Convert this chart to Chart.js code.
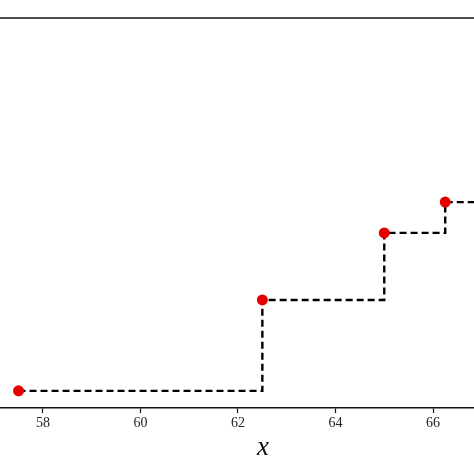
<!DOCTYPE html>
<html>
<head>
<meta charset="utf-8">
<script src="https://cdn.jsdelivr.net/npm/chart.js@4"></script>
<style>
html,body{margin:0;padding:0;background:#fff;}
#wrap{width:474px;height:474px;position:relative;}
</style>
</head>
<body>
<div id="wrap"><canvas id="c" width="474" height="474"></canvas></div>
<script>
// Data
const xValues = [57.5, 62.5, 65.0, 66.25, 67.5];
const yValues = [0.044, 0.277, 0.449, 0.528, 0.528];
const showPoint = [true, true, true, true, false];
const tickValues = [58, 60, 62, 64, 66];
const xRange = [57.12, 66.84];
const yRange = [0, 1];
const xTitle = 'x';

const points = xValues.map((x, i) => ({x: x, y: yValues[i]}));

const frameAndTitle = {
  id: 'frameAndTitle',
  afterDraw(chart) {
    const {ctx, chartArea} = chart;
    ctx.save();
    ctx.strokeStyle = '#111';
    ctx.lineWidth = 1.5;
    ctx.beginPath();
    ctx.moveTo(0, chartArea.top);
    ctx.lineTo(chart.width, chartArea.top);
    ctx.stroke();
    // axis title, centred on the full (cropped) axes
    ctx.fillStyle = '#111';
    ctx.font = 'italic 27px "Liberation Serif"';
    ctx.textAlign = 'center';
    ctx.textBaseline = 'alphabetic';
    ctx.fillText(xTitle, chartArea.left + chartArea.width * 0.555, chartArea.bottom + 47);
    ctx.restore();
  }
};

new Chart(document.getElementById('c'), {
  type: 'line',
  data: {
    datasets: [{
      data: points,
      stepped: true,
      borderColor: '#000',
      borderWidth: 2.4,
      borderDash: [7, 4],
      pointBackgroundColor: '#e60000',
      pointBorderColor: '#e60000',
      pointRadius: showPoint.map(s => s ? 5.5 : 0),
      pointBorderWidth: 0,
      fill: false
    }]
  },
  options: {
    responsive: false,
    animation: false,
    events: [],
    clip: false,
    layout: {autoPadding: false, padding: {top: 18, left: 0, right: 0, bottom: 0}},
    plugins: {legend: {display: false}, tooltip: {enabled: false}},
    scales: {
      x: {
        type: 'linear',
        min: xRange[0],
        max: xRange[1],
        afterBuildTicks: (s) => { s.ticks = tickValues.map(v => ({value: v})); },
        afterFit: (s) => { s.paddingLeft = 0; s.paddingRight = 0; s.height = 66; },
        grid: {display: true, drawOnChartArea: false, drawTicks: true, tickLength: 5, tickColor: '#111', tickWidth: 1.2},
        border: {display: true, color: '#111', width: 1.5},
        ticks: {color: '#222', font: {family: 'Liberation Serif', size: 14}, padding: 2, maxRotation: 0},
        title: {display: false}
      },
      y: {
        type: 'linear',
        display: false,
        min: yRange[0],
        max: yRange[1]
      }
    }
  },
  plugins: [frameAndTitle]
});
</script>
</body>
</html>
